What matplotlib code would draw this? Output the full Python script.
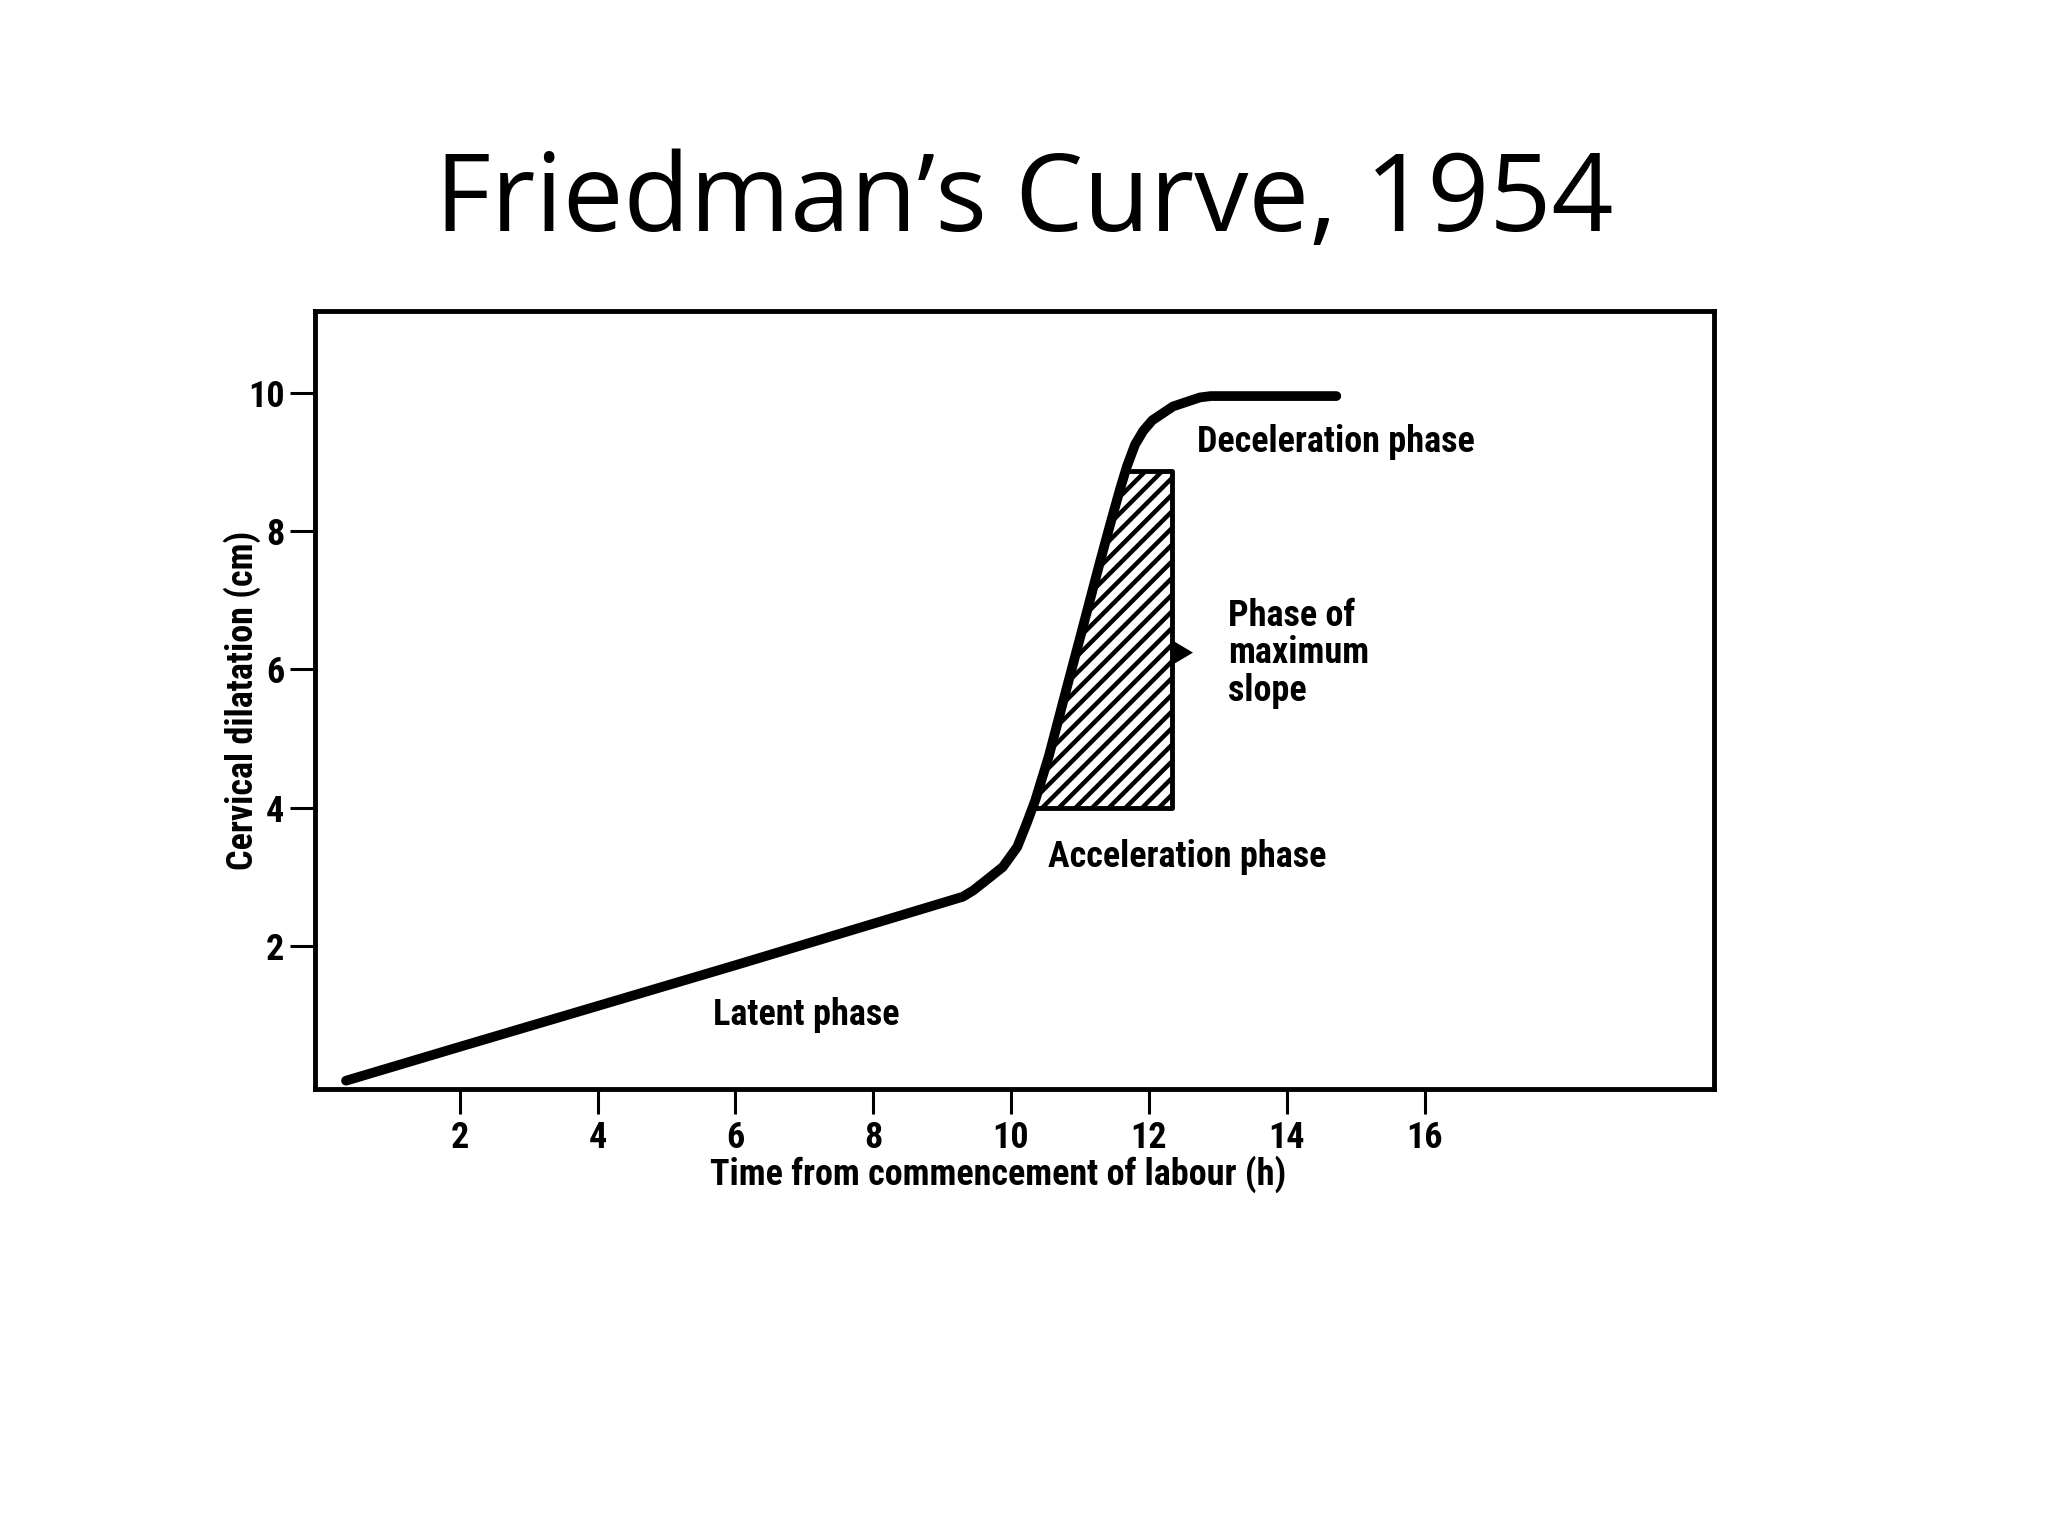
"""Friedman's labour curve (1954), redrawn from a slide."""

import matplotlib

matplotlib.use("Agg")
import matplotlib.pyplot as plt
import numpy as np
from matplotlib import font_manager

# curve: hours since labour started, cervical dilatation in cm
time_h = [0.35, 2.0, 4.0, 6.0, 8.0, 9.30, 9.45, 9.59, 9.88, 10.09, 10.23, 10.35, 10.55,
          10.80, 11.00, 11.15, 11.29, 11.44, 11.58, 11.68, 11.80, 11.92, 12.05,
          12.35, 12.74, 12.90, 14.72]
dilation_cm = [0.05, 0.54, 1.13, 1.72, 2.32, 2.71, 2.80, 2.91, 3.14, 3.43, 3.78, 4.10, 4.75,
               5.70, 6.45, 7.02, 7.55, 8.10, 8.60, 8.93, 9.25, 9.45, 9.60,
               9.80, 9.93, 9.95, 9.95]

# shaded "phase of maximum slope" block
slope_bottom_cm = 4.0
slope_top_cm = 8.86
slope_right_h = 12.33

x_ticks = [2, 4, 6, 8, 10, 12, 14, 16]
y_ticks = [2, 4, 6, 8, 10]

phase_labels = ["Deceleration phase", "Phase of\nmaximum\nslope", "Acceleration phase", "Latent phase"]
phase_x = [12.70, 13.15, 10.54, 5.68]
phase_y = [9.28, 6.23, 3.28, 1.00]

# the figure lettering is a narrow bold grotesque; take the closest installed face
names = {f.name for f in font_manager.fontManager.ttflist}
narrow_faces = ["Liberation Sans Narrow", "Roboto Condensed", "Open Sans Condensed", "Arial Narrow"]
found = [n for n in narrow_faces if n in names]
if found:
    narrow = dict(family=found[0], fontweight="bold")
    label_size = 26
else:
    narrow = dict(family="Roboto", fontweight="bold")
    label_size = 23

plt.rcParams["hatch.linewidth"] = 3.2

fig = plt.figure(figsize=(20.48, 15.36), dpi=100)
fig.text(0.5, 1 - 231 / 1536, "Friedman\u2019s Curve, 1954", ha="center", va="baseline",
         fontsize=78, family="Open Sans")

ax = fig.add_axes([315 / 2048, 1 - 1089 / 1536, 1399 / 2048, 778 / 1536])
ax.set_xlim(-0.1, 20.2)
ax.set_ylim(-0.07, 11.18)

ax.plot(time_h, dilation_cm, color="black", lw=7, solid_capstyle="round",
        solid_joinstyle="round", zorder=3)

band_y = np.linspace(slope_bottom_cm, slope_top_cm, 80)
band_left = np.interp(band_y, dilation_cm, time_h)
ax.fill_betweenx(band_y, band_left, slope_right_h, facecolor="white", edgecolor="black",
                 hatch="//", lw=0, zorder=2)
ax.plot([band_left[0], slope_right_h, slope_right_h, band_left[-1]],
        [slope_bottom_cm, slope_bottom_cm, slope_top_cm, slope_top_cm],
        color="black", lw=3.5, zorder=2)
# little pointer on the right edge of the block
ax.fill([slope_right_h, 12.6, slope_right_h], [6.40, 6.24, 6.08], color="black", lw=2, zorder=2)

for label, x, y in zip(phase_labels, phase_x, phase_y):
    ax.text(x, y, label, ha="left", va="center", fontsize=label_size, linespacing=1.05, **narrow)

ax.set_xticks(x_ticks)
ax.set_yticks(y_ticks)
ax.set_xticklabels([str(t) for t in x_ticks], fontsize=label_size, **narrow)
ax.set_yticklabels([str(t) for t in y_ticks], fontsize=label_size, **narrow)
ax.tick_params(direction="out", length=18, width=2.2, pad=4)

ax.set_xlabel("Time from commencement of labour (h)", fontsize=label_size, **narrow)
ax.set_ylabel("Cervical dilatation (cm)", fontsize=label_size, **narrow)
ax.xaxis.set_label_coords(0.488, -0.109)
ax.yaxis.set_label_coords(-0.052, 0.5)
ax.xaxis.label.set_va("center")
ax.yaxis.label.set_va("center")

for spine in ax.spines.values():
    spine.set_linewidth(3.5)

fig.savefig("out.png", dpi=100)
